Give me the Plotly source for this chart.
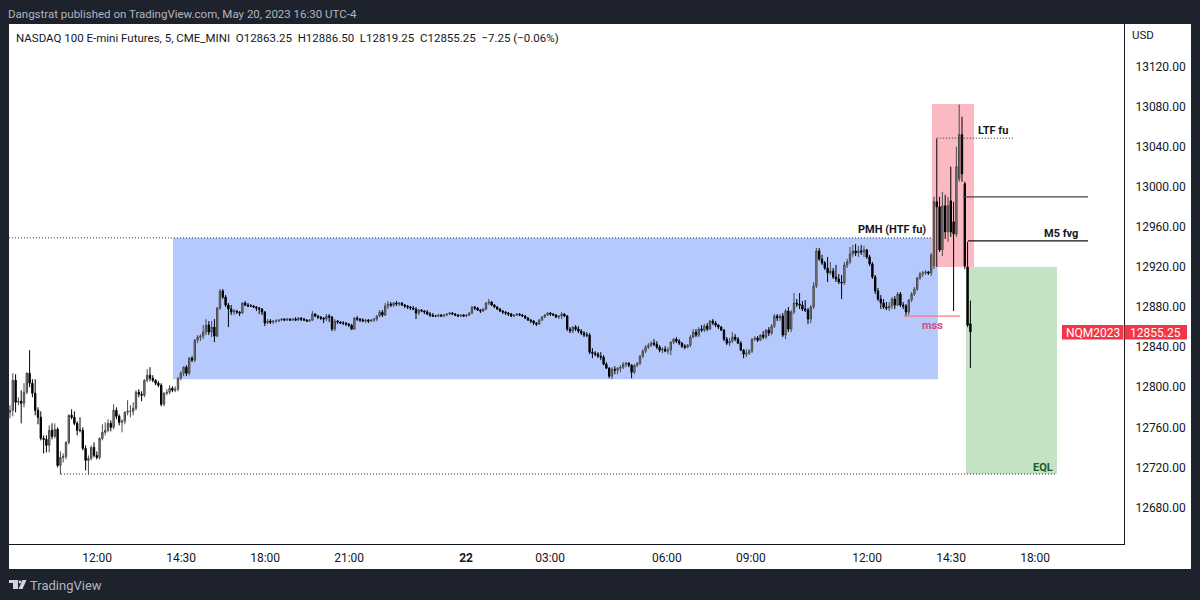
import plotly.graph_objects as go

# ---------- data ----------
opens = [
12775,12777,12807,12785,12786,12784,12795,12814,12804,12794,
12777,12770,12749,12748,12742,12757,12751,12758,12722,12730,
12731,12745,12772,12770,12764,12757,12757,12739,12727,12729,
12740,12732,12730,12749,12755,12757,12764,12760,12777,12771,
12765,12766,12775,12776,12776,12779,12795,12793,12792,12807,
12812,12809,12807,12804,12802,12783,12794,12795,12799,12797,
12798,12809,12814,12820,12814,12829,12827,12847,12850,12851,
12855,12862,12855,12860,12851,12879,12896,12890,12882,12878,
12875,12876,12875,12874,12884,12882,12881,12881,12880,12879,
12878,12875,12864,12866,12865,12866,12866,12867,12868,12867,
12868,12867,12868,12867,12869,12868,12867,12866,12867,12873,
12871,12870,12869,12868,12871,12870,12858,12866,12865,12864,
12864,12863,12862,12858,12869,12868,12867,12866,12867,12866,
12867,12868,12871,12875,12872,12881,12883,12882,12884,12883,
12884,12882,12881,12880,12879,12878,12874,12877,12876,12875,
12873,12872,12871,12871,12872,12871,12872,12873,12874,12873,
12872,12871,12872,12871,12872,12874,12880,12879,12877,12876,
12878,12884,12885,12882,12880,12878,12876,12875,12874,12873,
12871,12872,12873,12872,12871,12869,12867,12866,12864,12863,
12867,12870,12872,12874,12873,12872,12870,12871,12873,12871,
12858,12856,12860,12858,12856,12854,12852,12852,12835,12834,
12833,12831,12830,12823,12819,12811,12818,12817,12819,12820,
12823,12824,12822,12815,12822,12824,12831,12836,12840,12842,
12844,12843,12840,12837,12838,12836,12837,12845,12848,12846,
12844,12841,12840,12842,12850,12855,12852,12858,12857,12861,
12858,12866,12864,12862,12860,12857,12848,12844,12846,12850,
12848,12844,12837,12833,12834,12836,12848,12849,12847,12852,
12850,12857,12854,12861,12871,12869,12871,12852,12876,12858,
12875,12884,12883,12882,12878,12877,12868,12880,12901,12936,
12928,12924,12919,12914,12916,12910,12908,12905,12904,12922,
12925,12933,12936,12934,12936,12935,12937,12930,12923,12910,
12896,12888,12884,12880,12879,12881,12888,12882,12893,12882,
12881,12875,12887,12893,12898,12909,12913,12914,12915,12914,
12921,12985,12980,12937,12981,12955,12986,12965,12953,13008,
13052,13003,12920,12863.25]

highs = [
12782,12814,12813,12790,12797,12804,12815,12837,12808,12808,
12780,12776,12752,12752,12762,12764,12764,12760,12736,12734,
12746,12773,12778,12776,12766,12770,12760,12742,12732,12742,
12745,12736,12750,12763,12765,12768,12767,12783,12780,12773,
12768,12776,12787,12782,12785,12797,12798,12796,12808,12818,
12820,12812,12808,12806,12804,12795,12798,12802,12801,12801,
12810,12816,12821,12822,12830,12831,12848,12852,12853,12862,
12868,12866,12866,12868,12880,12898,12898,12892,12884,12882,
12878,12877,12876,12885,12886,12884,12883,12882,12881,12880,
12879,12876,12868,12868,12867,12868,12868,12869,12869,12869,
12869,12869,12870,12870,12870,12869,12868,12868,12876,12874,
12872,12871,12870,12873,12873,12871,12868,12867,12866,12866,
12865,12864,12863,12870,12871,12869,12869,12868,12868,12868,
12869,12872,12877,12877,12884,12886,12885,12885,12886,12885,
12885,12883,12882,12881,12881,12880,12878,12878,12877,12877,
12875,12874,12872,12873,12873,12873,12874,12875,12875,12874,
12873,12873,12873,12873,12875,12881,12881,12880,12878,12879,
12885,12888,12886,12883,12881,12879,12877,12876,12875,12874,
12873,12874,12874,12873,12872,12870,12868,12867,12865,12868,
12871,12873,12875,12875,12874,12873,12872,12875,12874,12872,
12860,12861,12862,12861,12858,12856,12855,12854,12839,12836,
12835,12835,12832,12825,12820,12820,12821,12820,12822,12825,
12825,12825,12823,12823,12825,12832,12838,12842,12844,12846,
12848,12846,12842,12840,12841,12840,12846,12849,12850,12848,
12845,12843,12843,12852,12858,12858,12860,12862,12863,12864,
12867,12868,12866,12863,12861,12858,12850,12849,12855,12853,
12850,12846,12838,12838,12838,12849,12851,12851,12853,12856,
12858,12860,12863,12873,12873,12873,12874,12878,12880,12877,
12894,12888,12894,12886,12887,12879,12882,12905,12939,12939,
12932,12926,12930,12925,12919,12922,12913,12912,12925,12928,
12940,12942,12943,12941,12942,12941,12938,12932,12925,12912,
12899,12892,12888,12885,12885,12890,12891,12895,12895,12885,
12883,12888,12895,12900,12910,12915,12916,12917,12916,12934,
12990,13048,12990,12995,12992,12990,13020,12985,13040,13082,
13070,13005,12945,12886.50]

lows = [
12769,12771,12775,12782,12764,12780,12793,12800,12790,12772,
12763,12747,12734,12735,12735,12748,12749,12720,12713,12725,
12728,12743,12768,12762,12752,12755,12737,12717,12713,12727,
12730,12728,12728,12747,12752,12755,12756,12758,12768,12762,
12755,12763,12772,12770,12772,12777,12790,12786,12790,12805,
12806,12805,12802,12800,12781,12781,12792,12793,12795,12795,
12796,12807,12811,12811,12812,12825,12825,12844,12846,12848,
12852,12852,12850,12845,12850,12877,12888,12880,12860,12872,
12872,12873,12871,12873,12881,12880,12880,12879,12876,12873,
12872,12861,12863,12863,12863,12864,12865,12866,12866,12866,
12866,12866,12866,12866,12866,12866,12865,12865,12866,12870,
12868,12867,12864,12866,12865,12856,12856,12863,12863,12862,
12861,12860,12857,12857,12866,12865,12865,12864,12864,12865,
12865,12866,12870,12870,12871,12878,12880,12880,12881,12881,
12881,12879,12878,12877,12877,12868,12872,12875,12873,12872,
12870,12870,12870,12870,12870,12870,12871,12872,12872,12871,
12870,12870,12870,12870,12871,12873,12877,12876,12874,12875,
12877,12882,12881,12879,12877,12875,12873,12872,12871,12870,
12870,12871,12871,12870,12868,12866,12864,12862,12861,12862,
12866,12869,12871,12871,12871,12869,12868,12868,12870,12856,
12854,12854,12856,12854,12852,12850,12850,12833,12829,12831,
12829,12827,12822,12818,12809,12808,12813,12813,12815,12818,
12820,12820,12809,12813,12820,12822,12829,12834,12838,12840,
12841,12838,12835,12834,12835,12833,12832,12843,12844,12842,
12839,12838,12839,12840,12849,12850,12850,12855,12855,12856,
12857,12862,12860,12858,12856,12846,12842,12841,12844,12846,
12843,12836,12829,12830,12832,12834,12846,12845,12846,12848,
12848,12851,12852,12859,12866,12866,12850,12848,12855,12855,
12873,12880,12878,12876,12875,12863,12864,12878,12899,12926,
12922,12917,12905,12912,12908,12905,12903,12888,12902,12919,
12923,12930,12931,12930,12932,12930,12928,12921,12908,12893,
12886,12878,12878,12877,12876,12878,12878,12881,12880,12878,
12871,12872,12885,12891,12896,12907,12910,12912,12912,12911,
12918,12920,12935,12931,12948,12945,12950,12876,12950,13005,
13005,12918,12860,12819.25]

closes = [
12777,12807,12785,12786,12784,12795,12814,12804,12794,12777,
12770,12749,12748,12742,12757,12751,12758,12722,12730,12731,
12745,12772,12770,12764,12757,12757,12739,12727,12729,12740,
12732,12730,12749,12755,12757,12764,12760,12777,12771,12765,
12766,12775,12776,12776,12779,12795,12793,12792,12807,12812,
12809,12807,12804,12802,12783,12794,12795,12799,12797,12798,
12809,12814,12820,12814,12829,12827,12847,12850,12851,12855,
12862,12855,12860,12851,12879,12896,12890,12882,12878,12875,
12876,12875,12874,12884,12882,12881,12881,12880,12879,12878,
12875,12864,12866,12865,12866,12866,12867,12868,12867,12868,
12867,12868,12867,12869,12868,12867,12866,12867,12873,12871,
12870,12869,12868,12871,12870,12858,12866,12865,12864,12864,
12863,12862,12858,12869,12868,12867,12866,12867,12866,12867,
12868,12871,12875,12872,12881,12883,12882,12884,12883,12884,
12882,12881,12880,12879,12878,12874,12877,12876,12875,12873,
12872,12871,12871,12872,12871,12872,12873,12874,12873,12872,
12871,12872,12871,12872,12874,12880,12879,12877,12876,12878,
12884,12885,12882,12880,12878,12876,12875,12874,12873,12871,
12872,12873,12872,12871,12869,12867,12866,12864,12863,12867,
12870,12872,12874,12873,12872,12870,12871,12873,12871,12858,
12856,12860,12858,12856,12854,12852,12852,12835,12834,12833,
12831,12830,12823,12819,12811,12818,12817,12819,12820,12823,
12824,12822,12815,12822,12824,12831,12836,12840,12842,12844,
12843,12840,12837,12838,12836,12837,12845,12848,12846,12844,
12841,12840,12842,12850,12855,12852,12858,12857,12861,12858,
12866,12864,12862,12860,12857,12848,12844,12846,12850,12848,
12844,12837,12833,12834,12836,12848,12849,12847,12852,12850,
12857,12854,12861,12871,12869,12871,12852,12876,12858,12875,
12884,12883,12882,12878,12877,12868,12880,12901,12936,12928,
12924,12919,12914,12916,12910,12908,12905,12904,12922,12925,
12933,12936,12934,12936,12935,12937,12930,12923,12910,12896,
12888,12884,12880,12879,12881,12888,12882,12893,12882,12881,
12875,12887,12893,12898,12909,12913,12914,12915,12914,12932,
12985,12980,12937,12981,12955,12981,12955,12953,13020,13052,
13013,12921,12862,12855.25]

time_labels = ["12:00", "14:30", "18:00", "21:00", "<b>22</b>", "03:00", "06:00", "09:00", "12:00", "14:30", "18:00"]
time_ticks = [31.1, 61.1, 91.1, 121.1, 162.9, 192.9, 234.6, 264.6, 306.1, 336.1, 366.1]
price_ticks = [12680, 12720, 12760, 12800, 12840, 12880, 12920, 12960, 13000, 13040, 13080, 13120]

DARK = "#1e222d"
FONT = "Roboto, Inter, sans-serif"

def X(p):
    return (p - 9) / 1115

def Y(p):
    return (544 - p) / 520

fig = go.Figure(go.Candlestick(
    x=list(range(len(closes))), open=opens, high=highs, low=lows, close=closes,
    increasing=dict(line=dict(color="#4a4a4a", width=1), fillcolor="#8a8a8a"),
    decreasing=dict(line=dict(color="#000000", width=1), fillcolor="#000000"),
    whiskerwidth=0, hoverinfo="skip", showlegend=False))

shapes = []

def rect(x0, x1, y0, y1, color, layer="below"):
    shapes.append(dict(type="rect", xref="x", yref="y", x0=x0, x1=x1, y0=y0, y1=y1,
                       fillcolor=color, line_width=0, layer=layer))

def hline(x0, x1, y, color, width=1, dash="solid"):
    shapes.append(dict(type="line", xref="x", yref="y", x0=x0, x1=x1, y0=y, y1=y,
                       line=dict(color=color, width=width, dash=dash), layer="above"))

def prect(x0, x1, y0, y1, color, layer="below"):
    shapes.append(dict(type="rect", xref="paper", yref="paper", x0=X(x0), x1=X(x1), y0=Y(y1), y1=Y(y0),
                       fillcolor=color, line_width=0, layer=layer))

# white price and time panels outside the plot area
prect(1124, 1191, 24, 569, "#ffffff")
prect(9, 1124, 544, 569, "#ffffff")

rect(58.2, 331.4, 12808, 12949, "#b5c9fc")
rect(329.3, 344.3, 12920, 13082.6, "#fbbac2")
rect(341.4, 373.9, 12713.4, 12920, "#c3e3c4")

DOTS = "1px,2px"
hline(-0.4, 329.3, 12949, "#222222", 1, DOTS)
hline(18.2, 373.9, 12713.4, "#222222", 1, DOTS)
hline(331, 358.2, 13048.5, "#222222", 1, DOTS)
hline(340.4, 385, 12990, "#444444", 1.2)
hline(342.1, 385, 12946, "#111111", 1.2)
hline(319.3, 339.3, 12871, "#f77c80", 1.2)

# last price labels
prect(1062, 1123.5, 325, 339.5, "#f23645", "above")
prect(1124.5, 1187, 325, 339.5, "#f23645", "above")

# TradingView logo
LOGO = "#d1d4dc"
prect(9, 18, 580, 583, LOGO, "above")
prect(13, 18, 583, 589, LOGO, "above")
shapes.append(dict(type="circle", xref="paper", yref="paper", x0=X(18.6), x1=X(21.4), y0=Y(583.4), y1=Y(580.6),
                   fillcolor=LOGO, line_width=0))
shapes.append(dict(type="path", xref="paper", yref="paper",
                   path=f"M {X(22.5)} {Y(580)} L {X(26.5)} {Y(580)} L {X(22.5)} {Y(589)} L {X(18.5)} {Y(589)} Z",
                   fillcolor=LOGO, line_width=0))

annotations = []

def text(x, y, s, size=11, color="#131722", anchor="left", bold=False):
    annotations.append(dict(xref="paper", yref="paper", x=X(x), y=Y(y), text=f"<b>{s}</b>" if bold else s,
                            showarrow=False, xanchor=anchor, yanchor="middle", borderpad=0, borderwidth=0,
                            font=dict(family=FONT, size=size, color=color)))

text(8, 14, "Dangstrat published on TradingView.com, May 20, 2023 16:30 UTC-4", 11.5, "#b2b5be")
text(16, 38, "NASDAQ 100 E-mini Futures, 5, CME_MINI  O12863.25  H12886.50  L12819.25  C12855.25  −7.25 (−0.06%)", 11.5, "#131722")
text(30, 585, "TradingView", 13, "#b2b5be")
text(1143, 35, "USD", 11.5, "#131722", "center")
text(892, 229, "PMH (HTF fu)", 11, "#131722", "center", True)
text(993, 130, "LTF fu", 11, "#131722", "center", True)
text(1061, 233, "M5 fvg", 11, "#131722", "center", True)
text(932, 325.5, "mss", 11, "#d64f80", "center", True)
text(1043, 467, "EQL", 11, "#1c5a2a", "center", True)
text(1093, 332.5, "NQM2023", 12, "#ffffff", "center")
text(1155.5, 332.5, "12855.25", 12, "#ffffff", "center")

fig.update_layout(
    width=1200, height=600, autosize=False,
    margin=dict(l=9, r=76, t=24, b=56),
    paper_bgcolor=DARK, plot_bgcolor="#ffffff",
    font=dict(family=FONT, size=12, color="#131722"),
    shapes=shapes, annotations=annotations, showlegend=False, dragmode=False,
    xaxis=dict(range=[-0.357, 397.86], rangeslider=dict(visible=False), showgrid=False, zeroline=False,
               tickmode="array", tickvals=time_ticks, ticktext=time_labels, ticks="", ticklen=0,
               showline=True, linecolor="#131722", linewidth=1, tickfont=dict(family=FONT, size=12, color="#131722"),
               ticklabelstandoff=3),
    yaxis=dict(range=[12643.6, 13162.4], side="right", showgrid=False, zeroline=False,
               tickmode="array", tickvals=price_ticks, tickformat=".2f", ticks="", ticklen=0,
               showline=True, linecolor="#131722", linewidth=1, tickfont=dict(family=FONT, size=12, color="#131722"),
               ticklabelstandoff=8),
)

fig.write_html("out.html", config=dict(displayModeBar=False),
               post_script="document.body.style.margin='0';document.body.style.overflow='hidden';")
